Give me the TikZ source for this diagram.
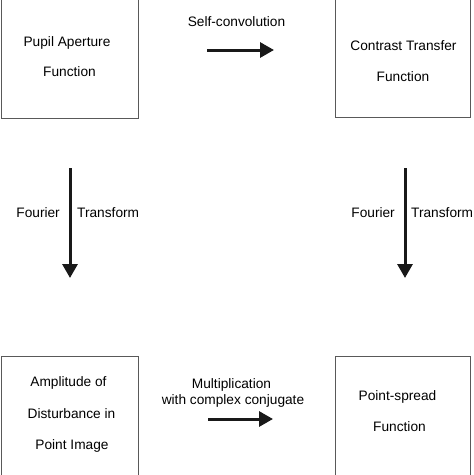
\documentclass[tikz,border=0pt]{standalone}
\usepackage{fontspec}
\setmainfont{Liberation Sans}
\usetikzlibrary{arrows.meta}
\begin{document}
\begin{tikzpicture}[x=1pt,y=-1pt,
  box/.style={draw=black!65, line width=1pt, inner sep=0pt, anchor=north west},
  lbl/.style={font=\fontsize{13.7}{16}\selectfont, text=black, inner sep=0pt, anchor=base},
  arr/.style={line width=3pt, draw=black!90, -{Triangle[length=14pt,width=15pt]}}]
\useasboundingbox (0,0) rectangle (474,475);
% boxes
\node[box, minimum width=137pt, minimum height=124pt] (b1) at (0.5,-6) {};
\node[box, minimum width=135pt, minimum height=123pt] (b2) at (335,-6) {};
\node[box, minimum width=137pt, minimum height=140pt] (b3) at (0.5,356) {};
\node[box, minimum width=135pt, minimum height=140pt] (b4) at (335,356) {};
% box texts
\node[lbl] (t1a) at (67,46.7) {Pupil Aperture};
\node[lbl] (t1b) at (69.5,76.7) {Function};
\node[lbl] (t2a) at (403.5,50) {Contrast Transfer};
\node[lbl] (t2b) at (403,81) {Function};
\node[lbl] (t3a) at (68.5,386.7) {Amplitude of};
\node[lbl] (t3b) at (71.5,418) {Disturbance in};
\node[lbl] (t3c) at (72,449) {Point Image};
\node[lbl] (t4a) at (397.5,400) {Point-spread};
\node[lbl] (t4b) at (399.5,431.7) {Function};
% arrow coordinates
\coordinate (h1s) at (207,50);
\coordinate (h1e) at (274,50);
\coordinate (h2s) at (208,419);
\coordinate (h2e) at (273,419);
\coordinate (v1s) at (70,168);
\coordinate (v1e) at (70,278);
\coordinate (v2s) at (405,168);
\coordinate (v2e) at (405,278);
\draw[arr] (h1s) -- (h1e);
\draw[arr] (h2s) -- (h2e);
\draw[arr] (v1s) -- (v1e);
\draw[arr] (v2s) -- (v2e);
% arrow labels
\node[lbl] (sc) at (236.5,26.7) {Self-convolution};
\node[lbl] (mu) at (231.5,388.3) {Multiplication};
\node[lbl] (wc) at (233,404) {with complex conjugate};
\node[lbl, anchor=base east] (f1) at (60,217.3) {Fourier};
\node[lbl, anchor=base west] (tr1) at (77,217.3) {Transform};
\node[lbl, anchor=base east] (f2) at (395,217.3) {Fourier};
\node[lbl, anchor=base west] (tr2) at (411,217.3) {Transform};
\end{tikzpicture}
\end{document}
